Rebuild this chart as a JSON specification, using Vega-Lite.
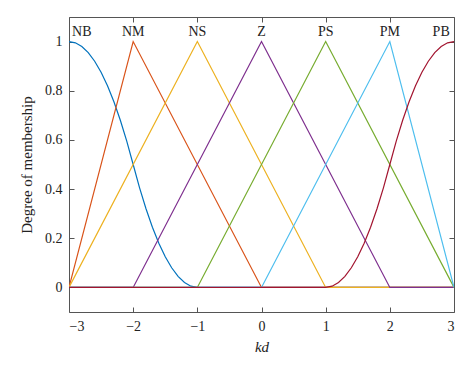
{
  "$schema": "https://vega.github.io/schema/vega-lite/v6.json",
  "autosize": "none",
  "width": 385,
  "height": 295,
  "padding": {"left": 69, "top": 17, "right": 20, "bottom": 56},
  "background": "white",
  "config": {
    "view": {"stroke": "#555", "strokeWidth": 1},
    "axis": {"grid": false, "domain": false, "labelFont": "Liberation Serif", "titleFont": "Liberation Serif", "labelFontSize": 14, "titleFontSize": 15, "labelColor": "#222", "titleColor": "#222", "titleFontWeight": "normal", "tickColor": "#555", "tickSize": -5}
  },
  "datasets": {
    "mf": [
      {"s": "NB", "o": 1, "x": -3, "y": 1},
      {"s": "NB", "o": 1, "x": -2.9, "y": 0.995},
      {"s": "NB", "o": 1, "x": -2.8, "y": 0.98},
      {"s": "NB", "o": 1, "x": -2.7, "y": 0.955},
      {"s": "NB", "o": 1, "x": -2.6, "y": 0.92},
      {"s": "NB", "o": 1, "x": -2.5, "y": 0.875},
      {"s": "NB", "o": 1, "x": -2.4, "y": 0.82},
      {"s": "NB", "o": 1, "x": -2.3, "y": 0.755},
      {"s": "NB", "o": 1, "x": -2.2, "y": 0.68},
      {"s": "NB", "o": 1, "x": -2.1, "y": 0.595},
      {"s": "NB", "o": 1, "x": -2.0, "y": 0.5},
      {"s": "NB", "o": 1, "x": -1.9, "y": 0.405},
      {"s": "NB", "o": 1, "x": -1.8, "y": 0.32},
      {"s": "NB", "o": 1, "x": -1.7, "y": 0.245},
      {"s": "NB", "o": 1, "x": -1.6, "y": 0.18},
      {"s": "NB", "o": 1, "x": -1.5, "y": 0.125},
      {"s": "NB", "o": 1, "x": -1.4, "y": 0.08},
      {"s": "NB", "o": 1, "x": -1.3, "y": 0.045},
      {"s": "NB", "o": 1, "x": -1.2, "y": 0.02},
      {"s": "NB", "o": 1, "x": -1.1, "y": 0.005},
      {"s": "NB", "o": 1, "x": -1.0, "y": 0},
      {"s": "NB", "o": 1, "x": 3, "y": 0},
      {"s": "NM", "o": 2, "x": -3, "y": 0},
      {"s": "NM", "o": 2, "x": -2, "y": 1},
      {"s": "NM", "o": 2, "x": 0, "y": 0},
      {"s": "NM", "o": 2, "x": 3, "y": 0},
      {"s": "NS", "o": 3, "x": -3, "y": 0},
      {"s": "NS", "o": 3, "x": -1, "y": 1},
      {"s": "NS", "o": 3, "x": 1, "y": 0},
      {"s": "NS", "o": 3, "x": 3, "y": 0},
      {"s": "Z", "o": 4, "x": -3, "y": 0},
      {"s": "Z", "o": 4, "x": -2, "y": 0},
      {"s": "Z", "o": 4, "x": 0, "y": 1},
      {"s": "Z", "o": 4, "x": 2, "y": 0},
      {"s": "Z", "o": 4, "x": 3, "y": 0},
      {"s": "PS", "o": 5, "x": -3, "y": 0},
      {"s": "PS", "o": 5, "x": -1, "y": 0},
      {"s": "PS", "o": 5, "x": 1, "y": 1},
      {"s": "PS", "o": 5, "x": 3, "y": 0},
      {"s": "PM", "o": 6, "x": -3, "y": 0},
      {"s": "PM", "o": 6, "x": 0, "y": 0},
      {"s": "PM", "o": 6, "x": 2, "y": 1},
      {"s": "PM", "o": 6, "x": 3, "y": 0},
      {"s": "PB", "o": 7, "x": -3, "y": 0},
      {"s": "PB", "o": 7, "x": 1.0, "y": 0},
      {"s": "PB", "o": 7, "x": 1.1, "y": 0.005},
      {"s": "PB", "o": 7, "x": 1.2, "y": 0.02},
      {"s": "PB", "o": 7, "x": 1.3, "y": 0.045},
      {"s": "PB", "o": 7, "x": 1.4, "y": 0.08},
      {"s": "PB", "o": 7, "x": 1.5, "y": 0.125},
      {"s": "PB", "o": 7, "x": 1.6, "y": 0.18},
      {"s": "PB", "o": 7, "x": 1.7, "y": 0.245},
      {"s": "PB", "o": 7, "x": 1.8, "y": 0.32},
      {"s": "PB", "o": 7, "x": 1.9, "y": 0.405},
      {"s": "PB", "o": 7, "x": 2.0, "y": 0.5},
      {"s": "PB", "o": 7, "x": 2.1, "y": 0.595},
      {"s": "PB", "o": 7, "x": 2.2, "y": 0.68},
      {"s": "PB", "o": 7, "x": 2.3, "y": 0.755},
      {"s": "PB", "o": 7, "x": 2.4, "y": 0.82},
      {"s": "PB", "o": 7, "x": 2.5, "y": 0.875},
      {"s": "PB", "o": 7, "x": 2.6, "y": 0.92},
      {"s": "PB", "o": 7, "x": 2.7, "y": 0.955},
      {"s": "PB", "o": 7, "x": 2.8, "y": 0.98},
      {"s": "PB", "o": 7, "x": 2.9, "y": 0.995},
      {"s": "PB", "o": 7, "x": 3.0, "y": 1}
    ],
    "labels": [
      {"s": "NB", "x": -2.8, "y": 1.04},
      {"s": "NM", "x": -2, "y": 1.04},
      {"s": "NS", "x": -1, "y": 1.04},
      {"s": "Z", "x": 0, "y": 1.04},
      {"s": "PS", "x": 1, "y": 1.04},
      {"s": "PM", "x": 2, "y": 1.04},
      {"s": "PB", "x": 2.8, "y": 1.04}
    ]
  },
  "layer": [
    {
      "data": {"name": "mf"},
      "mark": {"type": "line", "strokeWidth": 1.2, "clip": true},
      "encoding": {
        "x": {"field": "x", "type": "quantitative", "scale": {"domain": [-3, 3], "nice": false, "zero": false},
              "axis": {"orient": "bottom", "title": "kd", "titleFontStyle": "italic", "values": [-3, -2, -1, 0, 1, 2, 3], "labelPadding": 12, "titlePadding": 6}},
        "y": {"field": "y", "type": "quantitative", "scale": {"domain": [-0.1, 1.1], "nice": false, "zero": false},
              "axis": {"orient": "left", "title": "Degree of membership", "values": [0, 0.2, 0.4, 0.6, 0.8, 1], "format": "~g", "labelPadding": 12, "titlePadding": 10}},
        "color": {"field": "s", "type": "nominal", "legend": null, "sort": ["NB", "NM", "NS", "Z", "PS", "PM", "PB"],
                  "scale": {"domain": ["NB", "NM", "NS", "Z", "PS", "PM", "PB"], "range": ["#0072BD", "#D95319", "#EDB120", "#7E2F8E", "#77AC30", "#4DBEEE", "#A2142F"]}},
        "order": {"field": "x", "type": "quantitative"}
      }
    },
    {
      "data": {"name": "labels"},
      "mark": {"type": "text", "font": "Liberation Serif", "fontSize": 14, "color": "#222", "baseline": "middle", "align": "center"},
      "encoding": {
        "x": {"field": "x", "type": "quantitative", "axis": {"orient": "top", "title": null, "labels": false, "values": [-3, -2, -1, 0, 1, 2, 3]}},
        "y": {"field": "y", "type": "quantitative", "axis": {"orient": "right", "title": null, "labels": false, "values": [0, 0.2, 0.4, 0.6, 0.8, 1]}},
        "text": {"field": "s"}
      }
    }
  ],
  "resolve": {"axis": {"x": "independent", "y": "independent"}}
}
